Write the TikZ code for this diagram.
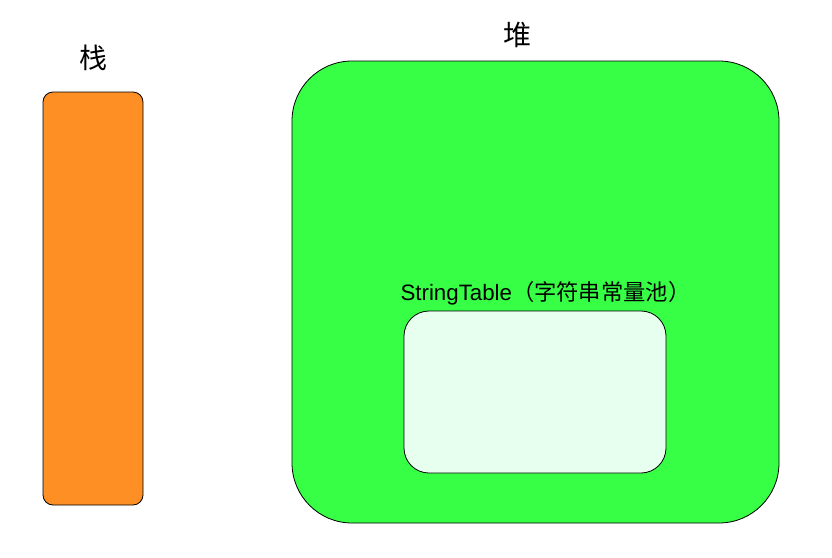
\documentclass[tikz,border=0pt]{standalone}
\usepackage{fontspec}
\setmainfont{Liberation Sans}
\newfontfamily\cjk{Noto Sans CJK SC}
\definecolor{stackorange}{RGB}{253,143,36}
\definecolor{heapgreen}{RGB}{54,255,70}
\definecolor{poolfill}{RGB}{230,255,238}
\begin{document}
\begin{tikzpicture}[x=1pt,y=-1pt,
  region/.style={draw=black,line width=0.8pt},
  lbl/.style={inner sep=0pt,text=black}]
\useasboundingbox (0,0) rectangle (832,557);
\draw[region,fill=stackorange,rounded corners=10pt] (43,92) rectangle (143,505);
\node[lbl,font=\cjk\fontsize{28}{32}\selectfont] (stacklbl) at (93,58) {栈};
\draw[region,fill=heapgreen,rounded corners=60pt] (292,61) rectangle (779,523);
\node[lbl,font=\cjk\fontsize{28}{32}\selectfont] (heaplbl) at (517,35) {堆};
\draw[region,fill=poolfill,rounded corners=25pt] (404,311) rectangle (666,473);
\node[lbl,font=\fontsize{22.3}{26}\selectfont] (poollbl) at (545.5,293) {StringTable{\cjk（字符串常量池）}};
\end{tikzpicture}
\end{document}
